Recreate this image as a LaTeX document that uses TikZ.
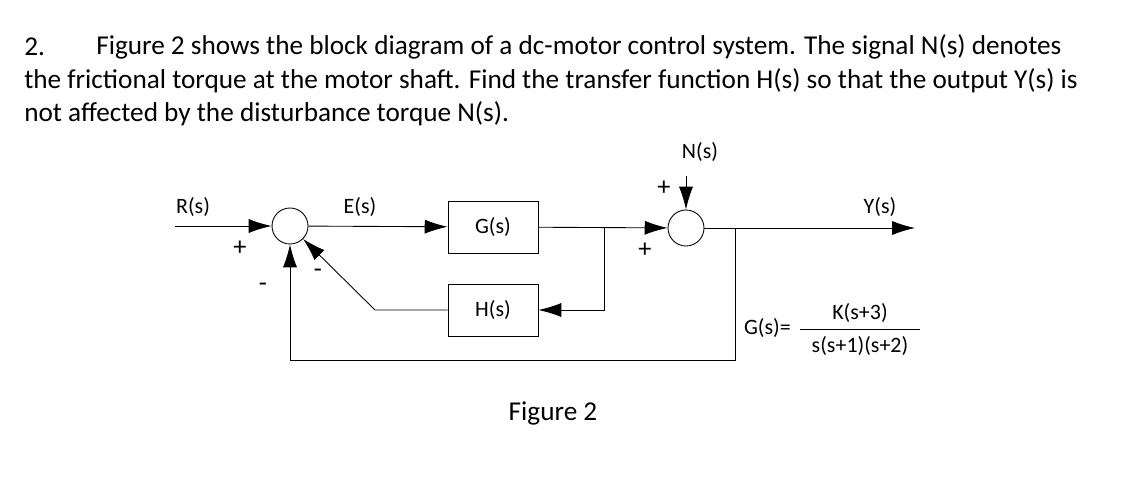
\documentclass[tikz,border=0pt]{standalone}
\usepackage{fontspec}
\setmainfont{Carlito}
\usetikzlibrary{arrows.meta}
\begin{document}
\begin{tikzpicture}[x=0.02cm,y=-0.02cm,
  blk/.style={draw,minimum width=1.8cm,minimum height=1.04cm,font=\fontsize{12.5}{14}\selectfont},
  sum/.style={draw,circle,minimum size=0.72cm,inner sep=0pt},
  lbl/.style={font=\fontsize{12.5}{14}\selectfont},
  pm/.style={font=\fontsize{15}{16}\selectfont},
  par/.style={font=\fontsize{15.5}{18}\selectfont,anchor=west},
  ar/.style={-{Latex[length=13pt,width=8pt]}},
  line width=0.5pt]
\useasboundingbox (0,0) rectangle (1138,503);
\node[par] (p0) at (18,47) {2.};
\node[par] (p1) at (90,47) {Figure 2 shows the block diagram of a dc-motor control system. The signal N(s) denotes};
\node[par] (p2) at (18,81) {the frictional torque at the motor shaft. Find the transfer function H(s) so that the output Y(s) is};
\node[par] (p3) at (18,114) {not affected by the disturbance torque N(s).};
\node[sum] (s1) at (290,226) {};
\node[sum] (s2) at (686,228) {};
\node[blk] (G) at (493,227) {G(s)};
\node[blk] (H) at (493,310) {H(s)};
\coordinate (in) at (175,226);
\coordinate (out) at (915,228);
\coordinate (nt) at (686,176);
\coordinate (br) at (604,227);
\coordinate (brd) at (604,310);
\coordinate (hl) at (375,310);
\coordinate (fb) at (735,228);
\coordinate (fb1) at (735,360);
\coordinate (fb2) at (290,360);
\draw[ar] (in) -- (s1);
\draw[ar] (s1) -- (G);
\draw[ar] (G) -- (s2);
\draw[ar] (s2) -- (out);
\draw[ar] (nt) -- (s2);
\draw[ar] (br) -- (brd) -- (H);
\draw[ar] (H) -- (hl) -- (s1);
\draw[ar] (fb) -- (fb1) -- (fb2) -- (s1);
\node[lbl] (r) at (193,207) {R(s)};
\node[lbl] (e) at (360,207) {E(s)};
\node[lbl] (y) at (880,207) {Y(s)};
\node[lbl] (n) at (700,152) {N(s)};
\node[pm] (pa) at (240,248) {+};
\node[pm] (pb) at (664,188) {+};
\node[pm] (pc) at (645,250) {+};
\node[pm] (ma) at (263,287) {-};
\node[pm] (mb) at (318,273) {-};
\node[lbl,anchor=east] (gl) at (797,328) {G(s)=};
\node[lbl,inner sep=1pt] (num) at (860,313) {K(s+3)};
\node[lbl,inner sep=1pt] (den) at (860,346) {s(s+1)(s+2)};
\draw (800,329) -- (920,329);
\node[font=\fontsize{15.5}{18}\selectfont] (f2) at (553,413) {Figure 2};
\end{tikzpicture}
\end{document}
